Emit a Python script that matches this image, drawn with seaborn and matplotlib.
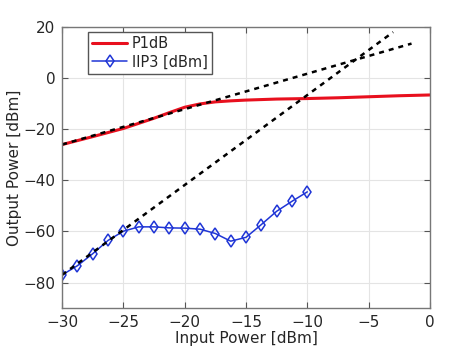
import matplotlib
matplotlib.use("Agg")
import matplotlib.pyplot as plt
import seaborn as sns
import pandas as pd

# P1dB curve
p1db_in = [-30, -27.5, -25, -22.5, -21.25, -20, -18.75, -17.5, -16.25, -15,
           -12.5, -10, -7.5, -5, -2.5, 0]
p1db_out = [-26, -22.9, -19.7, -15.7, -13.5, -11.4, -10.1, -9.3, -8.9, -8.6,
            -8.2, -8.0, -7.7, -7.3, -6.9, -6.6]

# IIP3 curve
iip3_in = [-30, -28.75, -27.5, -26.25, -25, -23.75, -22.5, -21.25, -20,
           -18.75, -17.5, -16.25, -15, -13.75, -12.5, -11.25, -10]
iip3_out = [-77, -73.4, -68.7, -63.5, -59.9, -58.2, -58.2, -58.6, -58.7,
            -59.1, -60.8, -63.8, -62.3, -57.3, -52.1, -48.2, -44.5]

# extrapolated asymptotes (dotted)
fund_in = [-30, -1.5]
fund_out = [-26, 13.5]
im3_in = [-30, -3]
im3_out = [-77, 18]

sns.set_style("ticks")
plt.rcParams["font.family"] = ["DejaVu Sans"]

fig = plt.figure(figsize=(4.74, 3.55), dpi=100)
ax = fig.add_axes([0.131, 0.132, 0.776, 0.792])

df_p1 = pd.DataFrame({"x": p1db_in, "y": p1db_out})
df_ip = pd.DataFrame({"x": iip3_in, "y": iip3_out})

sns.lineplot(data=df_p1, x="x", y="y", ax=ax, color="#e8101e", lw=2.2, label="P1dB")
sns.lineplot(data=df_ip, x="x", y="y", ax=ax, color="#1f35d6", lw=1.1, marker="d",
             markersize=6.5, markerfacecolor="none", markeredgecolor="#1f35d6",
             markeredgewidth=1.1, label="IIP3 [dBm]")
ax.plot(fund_in, fund_out, color="black", lw=1.8, linestyle=(0, (2, 2)))
ax.plot(im3_in, im3_out, color="black", lw=1.8, linestyle=(0, (2, 2)))

ax.set_xlim(-30, 0)
ax.set_ylim(-90, 20)
ax.set_xticks([-30, -25, -20, -15, -10, -5, 0])
ax.set_yticks([-80, -60, -40, -20, 0, 20])
ax.set_xticklabels(["\u221230", "\u221225", "\u221220", "\u221215", "\u221210", "\u22125", "0"])
ax.set_yticklabels(["\u221280", "\u221260", "\u221240", "\u221220", "0", "20"])
ax.grid(True, color="#e4e4e4", lw=0.8)
ax.set_axisbelow(True)
ax.tick_params(direction="in", top=True, right=True, labelsize=11, length=4,
               color="#555555", pad=5)
for s in ax.spines.values():
    s.set_color("#777777")
    s.set_linewidth(1.0)

ax.set_xlabel("Input Power [dBm]", fontsize=11, labelpad=1)
ax.set_ylabel("Output Power [dBm]", fontsize=11, labelpad=1)

leg = ax.legend(loc="upper left", bbox_to_anchor=(0.07, 0.982), borderaxespad=0,
                fontsize=10.5, frameon=True, fancybox=False, edgecolor="#555555",
                framealpha=1, handlelength=2.4, borderpad=0.3, labelspacing=0.2,
                handletextpad=0.3)
leg.get_frame().set_linewidth(1.0)

plt.savefig("out.png", dpi=100)
